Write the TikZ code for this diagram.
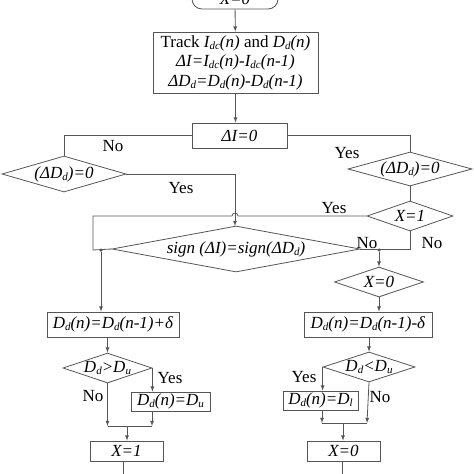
\documentclass[tikz,border=0pt]{standalone}
\usepackage{fontspec}
\setmainfont{Liberation Serif}
\usetikzlibrary{arrows,shapes.geometric,shapes.misc}
\definecolor{linegray}{HTML}{555555}
\newcommand{\lo}[1]{\raisebox{-0.3ex}{\fontsize{11}{11}\selectfont #1}}
\tikzset{
  box/.style={draw=linegray, rectangle, inner sep=0pt, align=center, text=black},
  decide/.style={draw=linegray, diamond, inner sep=0pt, label={[lbl]center:#1}},
  lbl/.style={inner sep=0pt, text=black},
  jdot/.style={circle, fill=linegray, inner sep=0pt, minimum size=3.5pt},
}

\begin{document}
\begin{tikzpicture}[x=1pt,y=-1pt,line width=0.8pt,color=linegray,
    font=\fontsize{17}{19.5}\selectfont]
  \useasboundingbox (0,0) rectangle (474,474);
  % upper part
  \node[box, rounded rectangle, minimum width=86pt, minimum height=20pt] (start) at (235,-1) {\textit{X=0}};
  \node[box, minimum width=165pt, minimum height=61pt] (track) at (235.5,62.5)
    {Track \textit{I\lo{dc}(n)} and \textit{D\lo{d}(n)}\\ \textit{ΔI=I\lo{dc}(n)-I\lo{dc}(n-1)}\\ \textit{ΔD\lo{d}=D\lo{d}(n)-D\lo{d}(n-1)}};
  \node[box, minimum width=95pt, minimum height=25pt] (dI) at (239.5,135.5) {\textit{ΔI=0}};
  \node[decide={\textit{(ΔD\lo{d})=0}}, minimum width=124pt, minimum height=36pt] (ddl) at (64,174) {};
  \node[decide={\textit{(ΔD\lo{d})=0}}, minimum width=124pt, minimum height=34pt] (ddr) at (410,169) {};
  \node[decide={\textit{X=1}}, minimum width=86pt, minimum height=30pt] (x1d) at (410,216) {};
  \node[decide={\textit{sign (ΔI)=sign(ΔD\lo{d})}}, minimum width=248pt, minimum height=46pt] (sgn) at (236,249) {};
  \node[decide={\textit{X=0}}, minimum width=89pt, minimum height=30pt] (x0d) at (379,282) {};
  % left column
  \node[box, minimum width=132pt, minimum height=25pt] (incr) at (113,324.5) {\textit{D\lo{d}(n)=D\lo{d}(n-1)+δ}};
  \node[decide={\textit{D\lo{d}>D\lo{u}}}, minimum width=89pt, minimum height=30pt] (dgt) at (107.5,368) {};
  \node[box, minimum width=79pt, minimum height=19pt] (setu) at (170.5,401.5) {\textit{D\lo{d}(n)=D\lo{u}}};
  \node[box, minimum width=73pt, minimum height=20pt] (x1) at (126.5,451) {\textit{X=1}};
  % right column
  \node[box, minimum width=128pt, minimum height=25pt] (decr) at (368,324.5) {\textit{D\lo{d}(n)=D\lo{d}(n-1)-δ}};
  \node[decide={\textit{D\lo{d}<D\lo{u}}}, minimum width=92pt, minimum height=30pt] (dlt) at (369,367) {};
  \node[box, minimum width=75pt, minimum height=19pt] (setl) at (320.5,400.5) {\textit{D\lo{d}(n)=D\lo{l}}};
  \node[box, minimum width=73pt, minimum height=20pt] (x0) at (343.5,451) {\textit{X=0}};
  % junctions
  \coordinate (lcorner) at (93,250);
  \node[jdot] (ldot) at (101,250) {};
  \node[jdot] (rdot) at (379,250) {};
  \coordinate (lm1) at (107.5,426);
  \coordinate (lm2) at (152,426);
  \coordinate (lmid) at (127,426);
  \coordinate (rm1) at (322,423);
  \coordinate (rm2) at (367,423);
  \coordinate (rmid) at (343,423);
  \coordinate (lend) at (123,480);
  \coordinate (rend) at (342,480);
  % labels
  \node[lbl] (no1) at (113,146) {No};
  \node[lbl] (yes1) at (347,153) {Yes};
  \node[lbl] (yes2) at (181,188) {Yes};
  \node[lbl] (yes3) at (334,208) {Yes};
  \node[lbl] (no2) at (367,243) {No};
  \node[lbl] (no3) at (432,243) {No};
  \node[lbl] (yes4) at (170,378) {Yes};
  \node[lbl] (no4) at (93,396) {No};
  \node[lbl] (yes5) at (304,377) {Yes};
  \node[lbl] (no5) at (380,397) {No};
  % connectors
  \draw[-latex] (start) -- (track);
  \draw[-latex] (track.south) -- (track.south |- dI.north);
  \draw (dI.west) -| (ddl.north);
  \draw (dI.east) -| (ddr.north);
  \draw[-latex] (ddl.east) -| (235,226);
  \draw (ddr.south) -- (x1d.north);
  \draw (x1d.west) -- (238,216) arc[start angle=0, end angle=-180, radius=3] -- (93,216) -- (lcorner) -- (sgn.west);
  \draw (sgn.east) -- (x1d.south |- sgn.east) -- (x1d.south);
  \draw[-latex] (ldot) -- (ldot |- incr.north);
  \draw[-latex] (rdot) -- (x0d.north);
  \draw[-latex] (x0d.south) -- (x0d.south |- decr.north);
  \draw[-latex] (incr.south -| dgt.north) -- (dgt.north);
  \draw[-latex] (dgt.east) -- (dgt.east |- setu.north);
  \draw[-latex] (dgt.south) -- (lm1);
  \draw[-latex] (setu.south -| lm2) -- (lm2);
  \draw (lm1) -- (lm2);
  \draw[-latex] (lmid) -- (lmid |- x1.north);
  \draw[-latex] (x1.south -| lend) -- (lend);
  \draw[-latex] (decr.south -| dlt.north) -- (dlt.north);
  \draw[-latex] (dlt.west) -- (dlt.west |- setl.north);
  \draw[-latex] (dlt.south) -- (rm2);
  \draw[-latex] (setl.south -| rm1) -- (rm1);
  \draw (rm1) -- (rm2);
  \draw[-latex] (rmid) -- (rmid |- x0.north);
  \draw[-latex] (x0.south -| rend) -- (rend);
\end{tikzpicture}
\end{document}
